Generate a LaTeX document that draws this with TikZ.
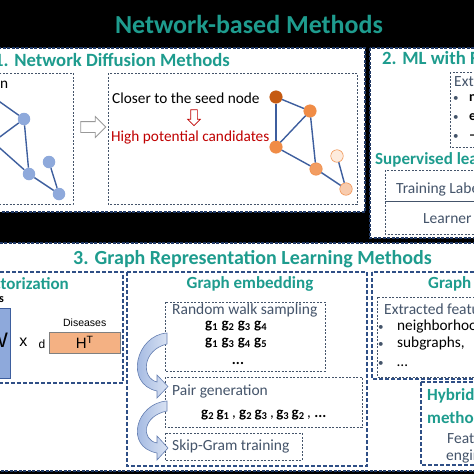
\documentclass[tikz,border=0pt]{standalone}
\usepackage{fontspec}
\setmainfont{Carlito}
\newfontfamily\arialfont{Liberation Sans}
\usetikzlibrary{positioning,shapes.arrows}

\definecolor{tealhead}{HTML}{1E9C8E}
\definecolor{navyline}{HTML}{203864}
\definecolor{subline}{HTML}{2F4F86}
\definecolor{slate}{HTML}{44546A}
\definecolor{nodeblue}{HTML}{8EA9DB}
\definecolor{edgeblue}{HTML}{3D5E9E}
\definecolor{seedorange}{HTML}{C55A11}
\definecolor{midorange}{HTML}{F08C46}
\definecolor{softorange}{HTML}{F8CBAD}
\definecolor{paleorange}{HTML}{FDEBDD}
\definecolor{hbox}{HTML}{F4B183}
\definecolor{candred}{HTML}{C00000}
\definecolor{arrowfill}{HTML}{DAE3F3}

\newcommand{\gsub}[1]{\textbf{g}\textsubscript{\textbf{#1}}}

\begin{document}
\begin{tikzpicture}[x=1pt,y=-1pt,
    section panel/.style={draw=navyline,fill=white,line width=1.8pt,dash pattern=on 3pt off 1.5pt},
    method panel/.style={draw=subline,line width=1.2pt,dash pattern=on 4pt off 2pt},
    inner box/.style={draw=slate,line width=0.7pt,dash pattern=on 2pt off 1.5pt},
    head text/.style={text=tealhead,font=\bfseries\fontsize{18.7}{22}\selectfont,inner sep=0pt},
    sub head/.style={text=tealhead,font=\bfseries\fontsize{17}{20}\selectfont,inner sep=0pt},
    body text/.style={text=slate,font=\fontsize{15.5}{18}\selectfont,inner sep=0pt},
    plain text/.style={font=\fontsize{15.3}{18}\selectfont,inner sep=0pt},
    seq text/.style={font=\fontsize{15}{18}\selectfont,inner sep=0pt},
    graph dot/.style={circle,minimum size=12.5pt,inner sep=0pt},
    blue dot/.style={graph dot,fill=nodeblue},
    orange dot/.style={graph dot,draw=midorange,line width=0.5pt},
    link/.style={draw=edgeblue,line width=1.4pt},
    curl/.style={draw=edgeblue!80,line width=0.6pt,left color=nodeblue,right color=arrowfill}]

\fill[black] (0,0) rectangle (474,474);
\useasboundingbox (0,0) rectangle (474,474);
\clip (0,0) rectangle (474,474);

\node[font=\bfseries\fontsize{26}{30}\selectfont,text=tealhead,inner sep=0pt,anchor=base] (title) at (249,33) {Network-based Methods};

% 1. network diffusion
\draw[section panel] (-10,48) rectangle (365,212);
\node[head text,anchor=base east] (diffhead) at (230,66) {1. Network Diffusion Methods};
\draw[inner box] (-10,73) rectangle (73,204);
\draw[inner box] (108,73) rectangle (357,204);
\node[plain text,anchor=base west] (seedword) at (0,88) {n};

\node[blue dot] (b1) at (-7,97) {};
\node[blue dot] (b2) at (24,119) {};
\node[blue dot] (b3) at (-7,142) {};
\node[blue dot] (b4) at (29,174) {};
\node[blue dot] (b5) at (49,162) {};
\node[blue dot] (b6) at (59,194) {};

\node[single arrow,draw=gray!80,fill=white,line width=0.8pt,minimum height=25pt,inner sep=5pt,single arrow head extend=5pt] (spread) at (90.5,127) {};

\node[plain text,anchor=base west] (closer) at (112,103) {Closer to the seed node};
\node[single arrow,rotate=-90,draw=candred,fill=white,line width=0.7pt,minimum height=16pt,inner sep=3pt,single arrow head extend=3pt] (implies) at (194,116) {};
\node[plain text,text=candred,anchor=base west] (cands) at (111,141) {High potential candidates};

\node[orange dot,fill=seedorange,draw=seedorange] (o1) at (276,97) {};
\node[orange dot,fill=midorange] (o2) at (310,111) {};
\node[orange dot,fill=midorange] (o3) at (276,147) {};
\node[orange dot,fill=midorange!85!white] (o4) at (316,169) {};
\node[orange dot,fill=paleorange] (o5) at (337,156) {};
\node[orange dot,fill=softorange] (o6) at (346,189) {};

\foreach \a/\b in {1/2,1/3,3/2,2/4,3/4,4/6,5/6}{
  \draw[link] (b\a) -- (b\b);
  \draw[link] (o\a) -- (o\b);
}

% 2. ML with features
\draw[section panel] (370,48) rectangle (484,238);
\node[head text,anchor=base west] (mlhead) at (382,64) {2. ML with Features};
\draw[inner box] (450,72) rectangle (484,147);
\node[body text,anchor=base west] (extract) at (454,86) {Extracted};
\foreach \n/\y/\w in {1/101/network,2/120/edges,3/139/{--}}{
  \node[text=slate,font=\fontsize{11}{13}\selectfont,inner sep=0pt,anchor=base west] (mlbul\n) at (453,\y) {\textbullet};
  \node[font=\bfseries\fontsize{14}{17}\selectfont,inner sep=0pt,anchor=base west] (mlitem\n) at (469,\y) {\w};
}
\node[sub head,anchor=base west] (suphead) at (375,164) {Supervised learning};
\draw[inner box] (385,170) rectangle (484,234);
\draw[slate,line width=0.8pt] (385,201) -- (484,201);
\node[body text,anchor=base west] (labels) at (396,193) {Training Labels};
\node[body text,anchor=base west] (learner) at (423,223) {Learner};

% 3. graph representation learning
\draw[section panel] (-10,243) rectangle (484,471);
\node[head text,font=\bfseries\fontsize{20}{24}\selectfont,anchor=base west] (grlhead) at (73,264) {3. Graph Representation Learning Methods};

\draw[method panel] (-10,272) rectangle (123,383);
\node[sub head,anchor=base east] (mfhead) at (69,289) {Matrix Factorization};
\node[font=\bfseries\fontsize{12}{14}\selectfont,inner sep=0pt,anchor=base east] (genes) at (4,302) {Genes};
\node[draw=edgeblue,fill=nodeblue,minimum width=40pt,minimum height=70pt,inner sep=0pt,anchor=north east] (wmat) at (10,308) {};
\node[font=\arialfont\fontsize{21}{24}\selectfont,inner sep=0pt] (wlabel) at (-2,340) {W};
\node[font=\arialfont\fontsize{16}{18}\selectfont,inner sep=0pt,anchor=base] (times) at (23.5,346) {x};
\node[font=\arialfont\fontsize{12}{14}\selectfont,inner sep=0pt,anchor=base] (dim) at (42,348) {d};
\node[draw=gray,fill=hbox,minimum width=71pt,minimum height=21pt,inner sep=0pt,anchor=north west,font=\arialfont\fontsize{15}{18}\selectfont] (hmat) at (49,332) {H\textsuperscript{T}};
\node[font=\arialfont\fontsize{10.5}{12}\selectfont,inner sep=0pt,above=5pt of hmat] (diseases) {Diseases};

\draw[method panel] (127,272) rectangle (367,466);
\node[sub head,anchor=base] (gehead) at (250,288) {Graph embedding};
\draw[inner box] (165,302) rectangle (325,371);
\node[body text,anchor=base west] (rwalk) at (172,314) {Random walk sampling};
\node[seq text,anchor=base west] (walk1) at (205,328) {\gsub1 \gsub2 \gsub3 \gsub4};
\node[seq text,anchor=base west] (walk2) at (205,345) {\gsub1 \gsub3 \gsub4 \gsub5};
\node[seq text,anchor=base] (walk3) at (238,364) {\textbf{...}};
\draw[inner box] (165,377) rectangle (362,427);
\node[body text,anchor=base west] (pairgen) at (172,395) {Pair generation};
\node[seq text,anchor=base west] (pairs) at (201,417) {\gsub2\,\gsub1\,, \gsub2\,\gsub3\,,\,\gsub3\,\gsub2\,, \textbf{...}};
\draw[inner box] (165,433) rectangle (302,460);
\node[body text,anchor=base west] (skipgram) at (172,450) {Skip-Gram training};

\path[curl] (167,333) .. controls (136,335) and (124,384) .. (157,391) -- (157,398) -- (168,386.5) -- (157,375) -- (157,382) .. controls (141,378) and (142,350) .. (167,344) -- cycle;
\path[curl] (167,401) .. controls (136,403) and (124,447) .. (157,453) -- (157,460) -- (168,448) -- (157,436) -- (157,443) .. controls (141,440) and (142,416) .. (167,411) -- cycle;

\draw[method panel] (372,272) rectangle (484,379);
\node[sub head,anchor=base west] (gfhead) at (428,288) {Graph features};
\draw[inner box] (377,297) rectangle (484,377);
\node[body text,anchor=base west] (exfeat) at (384,314) {Extracted features};
\foreach \n/\y/\w in {1/330/neighborhoods,2/347/{subgraphs,},3/366/{\ldots}}{
  \node[font=\fontsize{11}{13}\selectfont,text=slate,inner sep=0pt,anchor=base west] (gfbul\n) at (378,\y) {\textbullet};
  \node[plain text,anchor=base west] (gfitem\n) at (397,\y) {\w};
}

\draw[method panel] (421,382) rectangle (484,465);
\node[sub head,anchor=base west] (hybhead) at (427,400) {Hybrid};
\node[sub head,anchor=base west] (hybhead2) at (427,423) {methods};
\node[body text,anchor=base west] (feat) at (447,443) {Feature};
\node[body text,anchor=base west] (eng) at (446,460) {engineering};
\end{tikzpicture}
\end{document}
